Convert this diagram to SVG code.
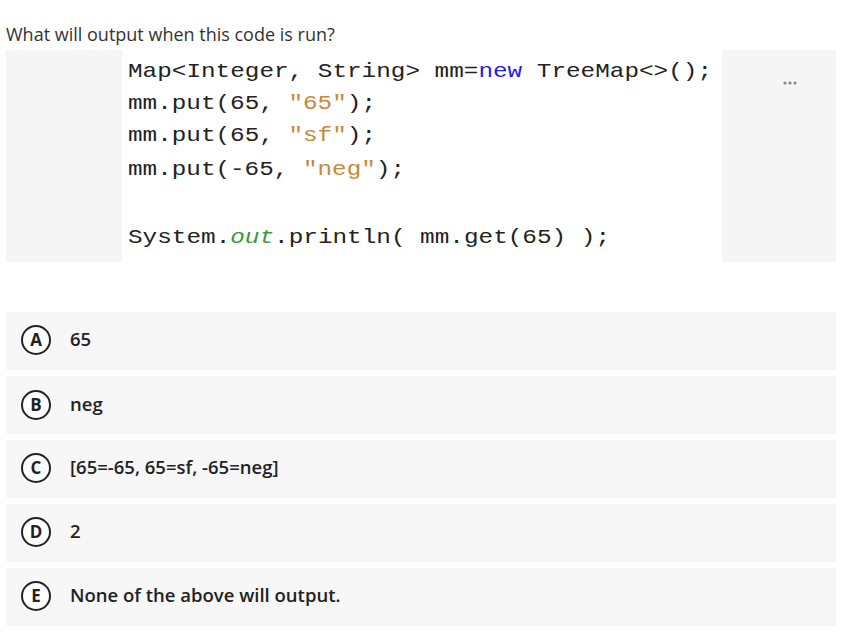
<svg xmlns="http://www.w3.org/2000/svg" width="846" height="644" viewBox="0 0 846 644">
<style>
.q{font-family:"Open Sans","Liberation Sans",sans-serif;font-size:18px;fill:#333}
.c{font-family:"Liberation Mono","Courier New",monospace;font-size:21px;fill:#222}
.s{fill:#c8893c}.k{fill:#1f1fe0}.o{fill:#3a9a3a;font-style:italic}
.row{fill:#f7f7f7}
.circ{fill:#fff;stroke:#222;stroke-width:2}
.lt{font-family:"Open Sans","Liberation Sans",sans-serif;font-size:17px;font-weight:bold;fill:#222;text-anchor:middle}
.ot{font-family:"Open Sans","Liberation Sans",sans-serif;font-size:18.5px;font-weight:600;fill:#222}
</style>
<rect width="846" height="644" fill="#fff"/>
<text class="q" x="6" y="41">What will output when this code is run?</text>
<g id="code">
<rect x="6" y="50" width="116" height="212" fill="#f5f5f5"/>
<rect x="722" y="50" width="114" height="212" fill="#f5f5f5"/>
<g fill="#888"><circle cx="785" cy="83" r="1.6"/><circle cx="790" cy="83" r="1.6"/><circle cx="795" cy="83" r="1.6"/></g>
<text class="c" x="128" y="77" textLength="584" lengthAdjust="spacingAndGlyphs">Map&lt;Integer, String&gt; mm=<tspan class="k">new</tspan> TreeMap&lt;&gt;();</text>
<text class="c" x="128" y="109" textLength="248" lengthAdjust="spacingAndGlyphs">mm.put(65, <tspan class="s">"65"</tspan>);</text>
<text class="c" x="128" y="141" textLength="248" lengthAdjust="spacingAndGlyphs">mm.put(65, <tspan class="s">"sf"</tspan>);</text>
<text class="c" x="128" y="175" textLength="277" lengthAdjust="spacingAndGlyphs">mm.put(-65, <tspan class="s">"neg"</tspan>);</text>
<text class="c" x="128" y="243" textLength="482" lengthAdjust="spacingAndGlyphs">System.<tspan class="o">out</tspan>.println( mm.get(65) );</text>
</g>
<g id="optA"><rect class="row" x="6" y="312" width="830" height="58"/><circle class="circ" cx="36" cy="340" r="14"/><text class="lt" x="36" y="346">A</text><text class="ot" x="70" y="346">65</text></g>
<g id="optB"><rect class="row" x="6" y="376" width="830" height="58"/><circle class="circ" cx="36" cy="405" r="14"/><text class="lt" x="36" y="411">B</text><text class="ot" x="70" y="411">neg</text></g>
<g id="optC"><rect class="row" x="6" y="440" width="830" height="58"/><circle class="circ" cx="36" cy="468" r="14"/><text class="lt" x="36" y="474">C</text><text class="ot" x="70" y="474">[65=-65, 65=sf, -65=neg]</text></g>
<g id="optD"><rect class="row" x="6" y="504" width="830" height="58"/><circle class="circ" cx="36" cy="532" r="14"/><text class="lt" x="36" y="538">D</text><text class="ot" x="70" y="538">2</text></g>
<g id="optE"><rect class="row" x="6" y="568" width="830" height="58"/><circle class="circ" cx="36" cy="596" r="14"/><text class="lt" x="36" y="602">E</text><text class="ot" x="70" y="602">None of the above will output.</text></g>
</svg>
